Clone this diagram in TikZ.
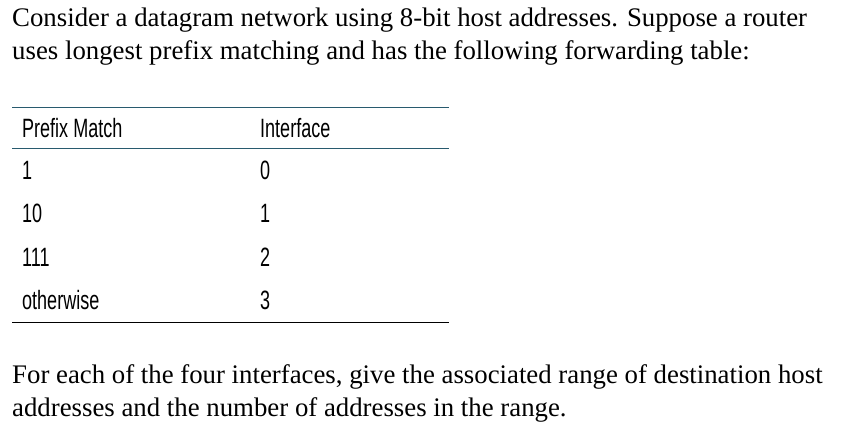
\documentclass[tikz,border=0pt]{standalone}
\usepackage{fontspec}
\setmainfont{Liberation Serif}
\newfontfamily\tabfont[FakeStretch=0.68]{Liberation Sans}
\usetikzlibrary{positioning}
\definecolor{rulecol}{RGB}{40,90,110}
\begin{document}
\begin{tikzpicture}[x=1pt,y=-1pt,
        txt/.style={anchor=west,inner sep=0pt,font=\fontsize{26.8}{30}\selectfont},
        cell/.style={anchor=west,inner sep=0pt,font=\tabfont\fontsize{26.5}{30}\selectfont},
        rule/.style={line width=1pt}]
        \useasboundingbox (0,0) rectangle (850,429);
        \node[txt] (q1) at (12,20) {Consider a datagram network using 8-bit host addresses. Suppose a router};
        \node[txt] (q2) at (12,53) {uses longest prefix matching and has the following forwarding table:};
        \coordinate (tl) at (12,107);
        \coordinate (tr) at (449,107);
        \coordinate (ml) at (12,148);
        \coordinate (mr) at (449,148);
        \coordinate (bl) at (12,322);
        \coordinate (br) at (449,322);
        \draw[rule,draw=rulecol] (tl) -- (tr);
        \draw[rule,draw=rulecol] (ml) -- (mr);
        \draw[rule] (bl) -- (br);
        \node[cell] (h1) at (22,128) {Prefix Match};
        \node[cell] (h2) at (260,128) {Interface};
        \foreach \p/\i/\y in {1/0/170,10/1/213,111/2/257,otherwise/3/300}
          {\node[cell] (p\i) at (22,\y) {\p};
           \node[cell] (i\i) at (260,\y) {\i};}
        \node[txt] (q3) at (12,377) {For each of the four interfaces, give the associated range of destination host};
        \node[txt] (q4) at (12,410) {addresses and the number of addresses in the range.};
\end{tikzpicture}
\end{document}
